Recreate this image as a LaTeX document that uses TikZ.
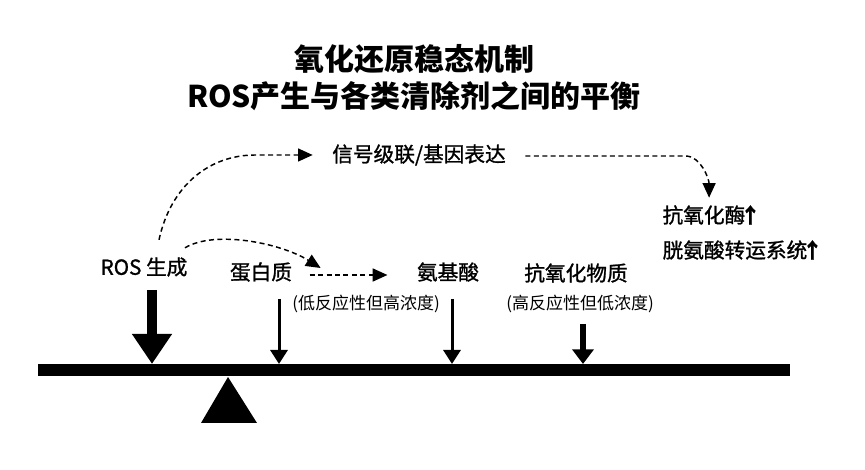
\documentclass[tikz,border=0pt]{standalone}
\usepackage{fontspec}
\setmainfont{Noto Sans CJK SC}
\newfontfamily\medfont{Noto Sans CJK SC}[FakeBold=1.2]
\usetikzlibrary{positioning,arrows.meta,calc}
\tikzset{
ttl/.style={inner sep=1pt, font=\fontsize{22.5}{27}\selectfont\bfseries},
lbl/.style={inner sep=1pt, font=\fontsize{15.5}{18}\selectfont\medfont},
note/.style={inner sep=1pt, font=\fontsize{12.75}{15}\selectfont},
dashline/.style={draw, line width=1.1pt, dash pattern=on 3.75pt off 2.6pt,
  -{Triangle[width=9.75pt,length=11pt]}},
load/.style={draw, line width=2.25pt, -{Triangle[width=12.75pt,length=10.5pt]}}
}
\newcommand{\upmark}{\kern-0.25em\textbf{↑}\kern-0.25em}

\begin{document}
\begin{tikzpicture}[x=0.75pt,y=0.75pt,yscale=-1,xscale=1]
\useasboundingbox (0,0) rectangle (865,470);

% title
\node[ttl] (title1) at (414,59) {氧化还原稳态机制};
\node[ttl] (title2) at (414,96) {ROS产生与各类清除剂之间的平衡};

% labels
\node[lbl] (xin) at (419,155) {信号级联/基因表达};
\node[lbl] (ros) at (144,267) {ROS 生成};
\node[lbl] (dan) at (261,272) {蛋白质};
\node[lbl] (an) at (448,272) {氨基酸};
\node[lbl] (kang) at (576,273) {抗氧化物质};
\node[note] (low) at (366,304) {(低反应性但高浓度)};
\node[note] (high) at (580,304) {(高反应性但低浓度)};
\node[lbl, anchor=west] (enz) at (661,215) {抗氧化酶\upmark};
\node[lbl, anchor=west] (cys) at (661,250) {胱氨酸转运系统\upmark};

% dashed connectors
\draw[dashline] ($(ros.north)+(15,-16)$) .. controls +(12,-55) and +(-45,0) .. (255,155) -- ($(xin.west)+(-18,0)$);
\draw[dashline] ($(ros.north east)+(-4,-8)$) .. controls +(30,-18) and +(-40,-25) .. ($(dan.east)+(27,-4)$);
\draw[dashline] ($(dan.east)+(16,3)$) -- ($(an.west)+(-28,3)$);
\draw[dashline] ($(xin.east)+(18,1)$) -- ++(160,0) .. controls +(16,0) and +(0,-18) .. ($(enz.north)+(0,-6)$);

% beam and fulcrum
\fill (38,364) rectangle (790,376);
\fill (228,377) -- (201,423) -- (257,423) -- cycle;

% loads on the beam
\coordinate (rosTop) at (152,290);
\coordinate (rosTip) at (152,364);
\coordinate (danTop) at (279,299);
\coordinate (danTip) at (279,364);
\coordinate (anTop) at (452,299);
\coordinate (anTip) at (452,364);
\coordinate (kangTop) at (583,324);
\coordinate (kangTip) at (583,364);

\draw[load, line width=7.5pt, -{Triangle[width=28.5pt,length=22.5pt]}] (rosTop) -- (rosTip);
\draw[load] (danTop) -- (danTip);
\draw[load] (anTop) -- (anTip);
\draw[load, line width=4.5pt, -{Triangle[width=15.75pt,length=11pt]}] (kangTop) -- (kangTip);

\end{tikzpicture}
\end{document}
